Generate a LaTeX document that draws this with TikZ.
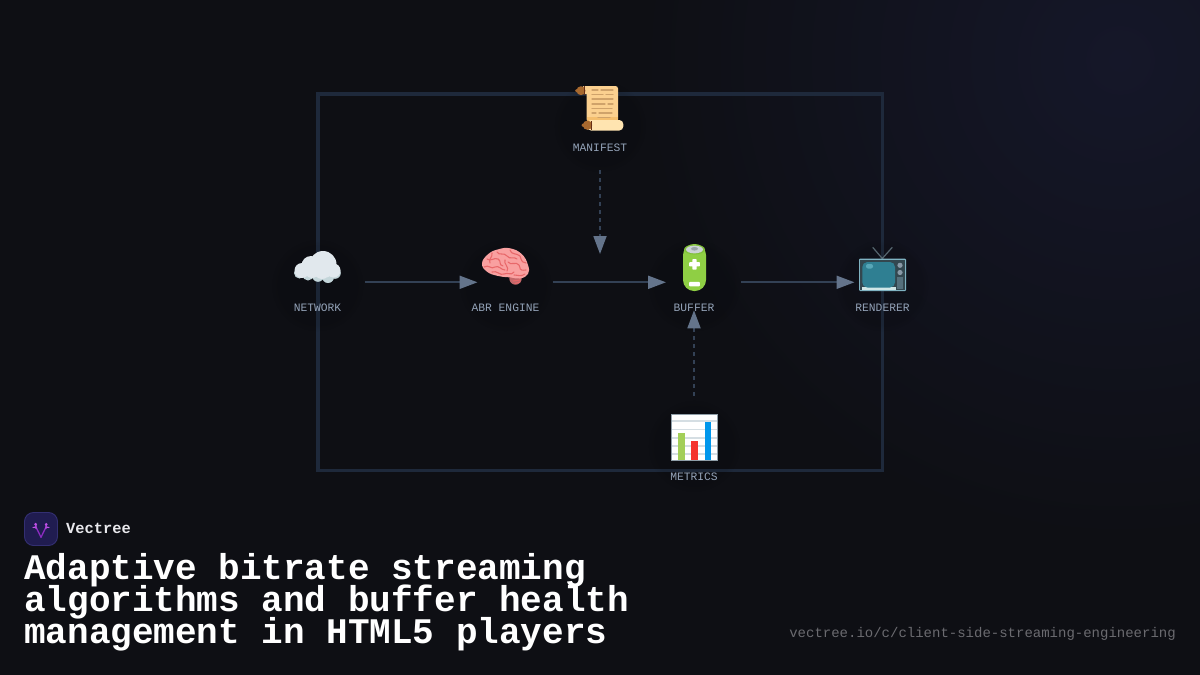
\documentclass[tikz,border=0pt]{standalone}
\usepackage{fontspec}
\setmainfont{Liberation Mono}
\usetikzlibrary{arrows.meta,fadings}
\definecolor{bgc}{HTML}{0E0F14}
\definecolor{bgt}{HTML}{151729}
\definecolor{framec}{HTML}{1E293B}
\definecolor{edgec}{HTML}{334155}
\definecolor{tipc}{HTML}{64748B}
\definecolor{labc}{HTML}{94A3B8}
\definecolor{cloudA}{HTML}{C4D6DA}
\definecolor{cloudB}{HTML}{E1E8ED}
\definecolor{brainA}{HTML}{C4686A}
\definecolor{brainB}{HTML}{F9A0A0}
\definecolor{brainC}{HTML}{E8686A}
\definecolor{scrA}{HTML}{FBD08F}
\definecolor{scrB}{HTML}{F4BE6E}
\definecolor{scrC}{HTML}{CFA26A}
\definecolor{scrD}{HTML}{FFE4B0}
\definecolor{scrE}{HTML}{A8692F}
\definecolor{scrF}{HTML}{662F16}
\definecolor{batA}{HTML}{8FCF44}
\definecolor{batB}{HTML}{7FBF38}
\definecolor{batC}{HTML}{CCD3D6}
\definecolor{batD}{HTML}{9AA4A8}
\definecolor{tvA}{HTML}{55656E}
\definecolor{tvB}{HTML}{7FB3C2}
\definecolor{tvC}{HTML}{33474F}
\definecolor{tvD}{HTML}{CFE6E6}
\definecolor{tvE}{HTML}{2F7F92}
\definecolor{tvF}{HTML}{58A7B8}
\definecolor{tvG}{HTML}{8899A6}
\definecolor{tvH}{HTML}{55707C}
\definecolor{chA}{HTML}{D5DEE3}
\definecolor{chB}{HTML}{8F9EA8}
\definecolor{chC}{HTML}{A3CF58}
\definecolor{chD}{HTML}{F4342F}
\definecolor{chE}{HTML}{0097EC}
\definecolor{logoA}{HTML}{332F72}
\definecolor{logoB}{HTML}{201C50}
\definecolor{logoC}{HTML}{8A2BC0}
\definecolor{logoD}{HTML}{C050E8}
\definecolor{brandc}{HTML}{E8E8EC}
\definecolor{urlc}{HTML}{6B6B70}
\tikzset{
  box/.style={minimum width=94pt,minimum height=94pt,inner sep=0pt,outer sep=0pt},
  lab/.style={font=\fontsize{11.3}{12}\selectfont,text=labc,anchor=base,inner sep=0pt},
  ttl/.style={font=\fontsize{36}{36}\selectfont\bfseries,text=white,anchor=base west,inner sep=0pt},
  flow/.style={draw=edgec,line width=2pt,shorten >=-19pt,-{Triangle[length=18pt,width=13pt,fill=tipc,color=tipc]}},
  aux/.style={flow,line width=1.8pt,dash pattern=on 4pt off 4pt},
  fold/.style={draw=#1,line width=1.1pt,line cap=round,fill=none},
  halo/.style={fill=black,opacity=.09,path fading=circle with fuzzy edge 15 percent},
}
\begin{document}
\begin{tikzpicture}[x=1pt,y=-1pt]
\useasboundingbox (0,0) rectangle (1200,675);
\fill[bgc] (0,0) rectangle (1200,675);
\begin{scope}
\clip (0,0) rectangle (1200,675);
\shade[inner color=bgt,outer color=bgc] (1120,60) circle (480);
\end{scope}
\draw[framec,line width=3.6pt] (317.8,94) rectangle (882.5,470.5);

% anchors
\node[box] (net) at (317.5,282.3) {};
\node[box] (abr) at (505.5,282.3) {};
\node[box] (buf) at (694,282.3) {};
\node[box] (ren) at (882.5,282.3) {};
\node[box] (man) at (600,123) {};
\node[box] (met) at (694,443) {};
\coordinate (merge) at (600,235);

\foreach \n in {net,abr,buf,ren,man,met} \path[halo] (\n.center) ++(0,3) circle (46);

\draw[flow] (net.east) -- (abr.west);
\draw[flow] (abr.east) -- (buf.west);
\draw[flow] (buf.east) -- (ren.west);
\draw[aux] (man.south) -- (merge);
\draw[aux] (met.north) -- (buf.south);

% cloud
\fill[cloudA] (299.5,273) circle (5.5) (335,273) circle (5.8) (308,275) circle (5.5) (318,276) circle (5.8) (328,277) circle (6);
\fill[cloudB] (323,264.5) circle (13.5) (311,265.5) circle (9.5) (302,270.5) circle (7.5) (333.5,270.5) circle (7) (312,271) circle (7) (322,271) circle (8);

% brain
\fill[brainA] (515.5,278.5) circle (6.2);
\fill[brainB] plot[smooth cycle,tension=.75] coordinates {(482,263.3) (488.3,254) (498.3,249.3) (510,248.3) (521.7,254) (528,265) (528,274) (520,278.5) (511,277.5) (498.3,276) (487,271.7)};
\begin{scope}[fold=brainC]
\draw (487,259) .. controls (491,262) and (494,257) .. (498,259) .. controls (502,261) and (498,265) .. (503,266);
\draw (497,252) .. controls (499,256) and (504,252) .. (507,256) .. controls (510,260) and (514,256) .. (517,259);
\draw (484,267) .. controls (489,264) and (491,270) .. (495,267) .. controls (499,265) and (501,270) .. (505,270);
\draw (510,250) .. controls (511,255) and (517,253) .. (520,256) .. controls (522,259) and (520,262) .. (526,263);
\draw (508,262) .. controls (511,266) and (516,261) .. (519,265) .. controls (521,268) and (518,271) .. (526,270);
\draw (492,272) .. controls (497,270) and (500,276) .. (504,274) .. controls (508,272) and (511,276) .. (514,272);
\draw (505,260) .. controls (503,263) and (510,268) .. (507,271);
\draw (492,253) .. controls (493,257) and (488,259) .. (490,263);
\draw (514,275) .. controls (518,275) and (521,277) .. (525,274);
\draw (513,281) -- (520,280) (515,283.5) -- (520,282);
\end{scope}

% scroll
\fill[scrA,rounded corners=2.5pt] (586.7,86) rectangle (618,122);
\fill[scrA,rounded corners=1.5pt] (582,86) rectangle (590,94);
\fill[scrB] (586.7,117) rectangle (618,122);
\begin{scope}[fold=scrC]
\draw (592,90) -- (598,90) (601,90) -- (613,90);
\draw (592,94.5) -- (603,94.5) (606,94.5) -- (613,94.5);
\draw (592,99) -- (613,99);
\draw (592,104) -- (605,104) (608,104) -- (613,104);
\draw (592,108.5) -- (612,108.5);
\draw (592,113) -- (596,113) (599,113) -- (612,113);
\draw (598,117.5) -- (610,117.5);
\end{scope}
\fill[scrD,rounded corners=4pt] (587,120) rectangle (623.3,130.5);
\fill[scrE] (577.7,90.7) ellipse (2.5 and 1.8);
\fill[scrE] (581,90.7) circle (4.5);
\fill[scrF] (583.8,86) rectangle (585.3,95.4);
\fill[scrE] (584,125.2) ellipse (2.5 and 1.8);
\fill[scrE] (587.5,125.2) circle (4.7);
\fill[scrF] (590.5,120.5) rectangle (592,130);

% battery
\fill[batA,rounded corners=11pt] (683,244) rectangle (706,291);
\fill[batB] (694.5,249.5) ellipse (10.5 and 5);
\fill[batC] (694.5,249.5) ellipse (8.5 and 3.9);
\fill[batD] (694.5,248.8) ellipse (3.5 and 1.8);
\fill[white,rounded corners=.7pt] (692.4,259) rectangle (696.6,269.7) (689.1,262.2) rectangle (699.9,266.4);
\fill[white,rounded corners=1pt] (689.1,281.8) rectangle (699.9,286.4);

% tv
\draw[tvA,line width=1.2pt] (872.7,247.3) -- (882.3,258.5) -- (892.3,247.3);
\fill[tvB,rounded corners=1pt] (859,258.7) rectangle (906,291);
\fill[tvC] (860.2,260) rectangle (904.8,289.7);
\fill[tvD] (862,287) rectangle (895.5,289.7);
\fill[tvE,rounded corners=5pt] (862.3,262) rectangle (895,287.5);
\fill[tvF,rounded corners=2pt] (866,264) rectangle (873,268.5);
\fill[tvG] (900,265.3) circle (2.6) (900,272.5) circle (2.6);
\fill[tvH] (896.8,277) rectangle (903.3,289);

% chart
\fill[white] (671,414) rectangle (718.3,461);
\draw[chA,line width=1.3pt] (672,421) -- (717,421) (672,429.5) -- (717,429.5) (672,438) -- (717,438) (672,446) -- (717,446) (672,454) -- (717,454);
\draw[chB,line width=1.3pt] (671.6,414.6) rectangle (717.7,460.4);
\fill[chC] (678.3,433.3) rectangle (685,459.8);
\fill[chD] (691.3,441) rectangle (698,459.8);
\fill[chE] (704.7,422) rectangle (711.3,459.8);

% labels
\node[lab] (lnet) at (317.5,311.5) {NETWORK};
\node[lab] (labr) at (505.5,311.5) {ABR ENGINE};
\node[lab] (lbuf) at (694,311.5) {BUFFER};
\node[lab] (lren) at (882.5,311.5) {RENDERER};
\node[lab] (lman) at (600,151.5) {MANIFEST};
\node[lab] (lmet) at (694,480.5) {METRICS};

% logo
\draw[logoA,fill=logoB,line width=.9pt,rounded corners=9pt] (24.5,512.5) rectangle (57.5,545.5);
\draw[logoC,line width=1.3pt,line cap=round,line join=round] (36,527) -- (41,537.3) -- (46,527);
\draw[logoD,line width=1.1pt,line cap=round] (33,527.5) -- (36,527) (36,524.5) -- (36,528.5) (49,527.5) -- (46,527) (46,524.5) -- (46,528.5);
\fill[logoD] (35.6,524.3) circle (1.5) (46.2,524.3) circle (1.5);
\node[anchor=base west,inner sep=0pt,font=\fontsize{15.4}{16}\selectfont\bfseries,text=brandc] (brand) at (66,533.5) {Vectree};

% title
\node[ttl] (t1) at (24,579) {Adaptive bitrate streaming};
\node[ttl] (t2) at (24,611.3) {algorithms and buffer health};
\node[ttl] (t3) at (24,643.7) {management in HTML5 players};
\node[anchor=base east,inner sep=0pt,font=\fontsize{14}{14}\selectfont,text=urlc] (url) at (1176,637.5) {vectree.io/c/client-side-streaming-engineering};
\end{tikzpicture}
\end{document}
